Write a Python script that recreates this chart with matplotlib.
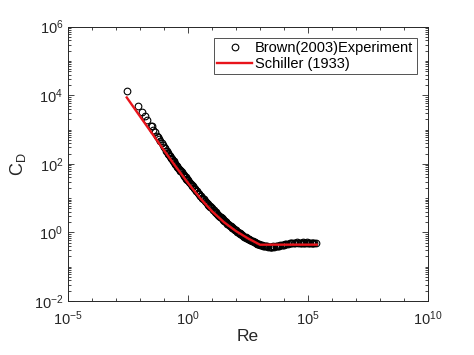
import matplotlib
matplotlib.use("Agg")
import matplotlib.pyplot as plt
from matplotlib.ticker import LogLocator, NullFormatter

plt.rcParams['font.family'] = ['Liberation Sans', 'DejaVu Sans']
plt.rcParams['mathtext.fontset'] = 'custom'
plt.rcParams['mathtext.rm'] = 'Liberation Sans'
plt.rcParams['mathtext.it'] = 'Liberation Sans:italic'

re_exp = [0.0028, 0.0079, 0.0118, 0.0158, 0.020, 0.028, 0.031, 0.036, 0.042, 0.05,
          0.055, 0.063, 0.07, 0.08, 0.09, 0.1, 0.11, 0.125, 0.13, 0.15,
          0.16, 0.18, 0.2, 0.22, 0.25, 0.27, 0.3, 0.33, 0.36, 0.4,
          0.45, 0.5, 0.55, 0.6, 0.7, 0.8, 0.9, 1.0, 1.1, 1.2,
          1.4, 1.6, 1.8, 2.0, 2.3, 2.6, 3.0, 3.5, 4.0, 4.5,
          5.0, 6.0, 7.0, 8.0, 9.0, 10, 12, 14, 16, 18,
          20, 23, 26, 30, 35, 40, 45, 50, 60, 70,
          80, 90, 100, 120, 140, 160, 180, 200, 250, 300,
          350, 400, 500, 600, 700, 800, 900, 1000, 1200, 1500,
          1800, 2000, 2500, 3000, 3500, 4000, 5000, 6000, 7000, 8000,
          1.0e4, 1.2e4, 1.5e4, 2.0e4, 2.5e4, 3.0e4, 4.0e4, 5.0e4, 6.0e4, 7.0e4,
          8.0e4, 1.0e5, 1.2e5, 1.5e5, 1.8e5, 2.1e5,
          0.14, 0.17, 0.19, 0.21, 0.24, 0.29, 0.35, 0.42, 0.48, 0.65,
          0.75, 0.85, 0.95, 1.3, 1.5, 1.7, 1.9, 2.2, 2.8, 3.2,
          3.8, 4.2, 5.5, 6.5, 7.5, 8.5, 11, 13, 15, 17,
          19, 22, 25, 28, 33, 38, 43, 55, 65, 75,
          85, 95, 110, 130, 150, 170, 220, 270, 330, 380,
          450, 550, 650, 750, 850, 1100, 1300, 1600, 2200, 2800,
          3200, 4500, 5500, 9000, 1.1e4, 1.7e4, 2.2e4, 3.5e4, 4.5e4, 5.5e4,
          6.5e4, 9.0e4, 1.1e5, 1.4e5, 1.6e5]
cd_exp = [13000, 4700, 3300, 2500, 1900, 1300, 1250, 1000, 820, 650,
          600, 520, 450, 400, 350, 320, 290, 240, 230, 200,
          185, 165, 150, 138, 120, 112, 100, 92, 84, 76,
          68, 62, 57, 52, 45, 40, 36, 33, 30, 28,
          24.5, 22, 20, 18.5, 16, 14.5, 12.8, 11.2, 10, 9.2,
          8.4, 7.3, 6.5, 5.9, 5.4, 5.0, 4.4, 3.9, 3.5, 3.3,
          3.1, 2.8, 2.6, 2.35, 2.15, 1.95, 1.8, 1.68, 1.5, 1.38,
          1.28, 1.2, 1.15, 1.02, 0.95, 0.9, 0.85, 0.8, 0.73, 0.68,
          0.63, 0.6, 0.55, 0.51, 0.49, 0.47, 0.455, 0.44, 0.42, 0.41,
          0.40, 0.39, 0.38, 0.38, 0.39, 0.38, 0.40, 0.41, 0.42, 0.43,
          0.44, 0.45, 0.47, 0.48, 0.49, 0.50, 0.49, 0.50, 0.51, 0.50,
          0.49, 0.50, 0.49, 0.50, 0.49, 0.48,
          205, 170, 152, 140, 122, 100, 83, 70, 62, 47,
          41, 37, 33, 25, 22, 20, 18, 16, 13, 11.5,
          9.8, 9.2, 7.5, 6.6, 6.0, 5.4, 4.5, 4.0, 3.6, 3.3,
          3.1, 2.8, 2.6, 2.4, 2.15, 1.95, 1.82, 1.56, 1.42, 1.32,
          1.24, 1.16, 1.06, 0.97, 0.91, 0.86, 0.76, 0.70, 0.64, 0.61,
          0.57, 0.52, 0.49, 0.47, 0.45, 0.42, 0.40, 0.39, 0.38, 0.37,
          0.38, 0.39, 0.40, 0.43, 0.46, 0.49, 0.50, 0.51, 0.50, 0.49,
          0.50, 0.51, 0.49, 0.48, 0.50]

# Schiller (1933) correlation curve
re_sch = [0.0028, 0.00316, 0.01, 0.0316, 0.1, 0.316, 1.0, 3.16, 10, 31.6,
          100, 316, 1000, 3162, 1.0e4, 3.16e4, 1.0e5, 2.3e5]
cd_sch = [8594, 7617, 2415, 770, 247.4, 81.1, 27.6, 10.1, 4.15, 1.98,
          1.092, 0.670, 0.438, 0.44, 0.44, 0.44, 0.44, 0.44]

fig = plt.figure(figsize=(4.74, 3.55), dpi=100)
ax = fig.add_axes([0.1435, 0.152, 0.7595, 0.773])

ax.plot(re_exp, cd_exp, 'o', mfc='none', mec='black', ms=4.8, mew=0.8,
        label='Brown(2003)Experiment', zorder=2)
ax.plot(re_sch, cd_sch, '-', color='#e8141b', lw=1.7, label='Schiller (1933)', zorder=3)

ax.set_xscale('log')
ax.set_yscale('log')
ax.set_xlim(1e-5, 1e10)
ax.set_ylim(1e-2, 1e6)
ax.set_xticks([1e-5, 1e0, 1e5, 1e10])
ax.xaxis.set_minor_locator(LogLocator(base=10, subs=(1.0,), numticks=40))
ax.xaxis.set_minor_formatter(NullFormatter())
ax.set_yticks([1e-2, 1e0, 1e2, 1e4, 1e6])
ax.yaxis.set_minor_locator(LogLocator(base=10, subs=tuple(range(1, 10)), numticks=40))
ax.yaxis.set_minor_formatter(NullFormatter())

ax.tick_params(which='both', direction='in', top=True, right=True, labelsize=10.5,
               colors='#262626', width=0.6)
ax.tick_params(which='major', length=4)
ax.tick_params(which='minor', length=2)
ax.tick_params(axis='x', which='major', pad=6)
for s in ax.spines.values():
    s.set_color('#262626')
    s.set_linewidth(0.7)

ax.set_xlabel('Re', fontsize=12.5, color='#262626', labelpad=1)
ax.set_ylabel(r'$\mathregular{C_D}$', fontsize=13, color='#262626', labelpad=4)

leg = ax.legend(loc='upper right', fontsize=10.5, frameon=True, fancybox=False,
                edgecolor='#262626', handlelength=2.4, handletextpad=0.2,
                borderpad=0.25, labelspacing=0.1, borderaxespad=0.75,
                markerscale=1.0)
leg.get_frame().set_linewidth(0.7)

fig.savefig('out.png', dpi=100)
